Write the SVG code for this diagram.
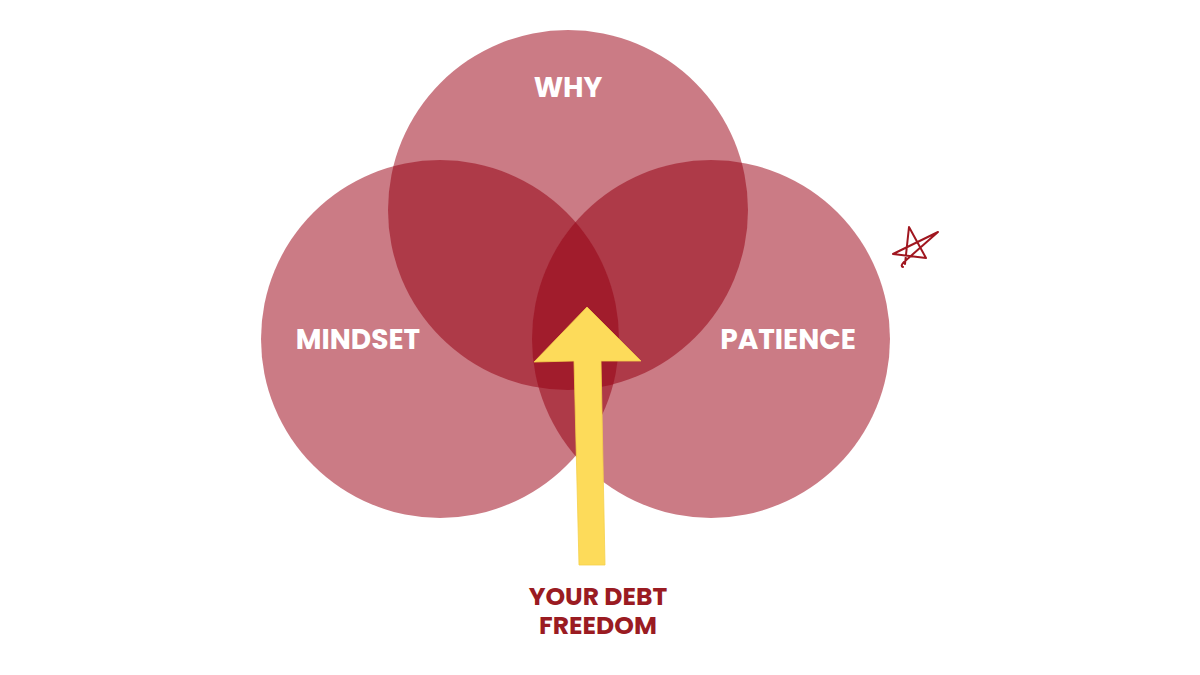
<svg xmlns="http://www.w3.org/2000/svg" width="1200" height="675" viewBox="0 0 1200 675">
  <style>
    .single { fill: #CB7B85; }
    .double { fill: #AE3A48; }
    .triple { fill: #A11C2C; }
    .lbl { font-family: Poppins, "Noto Sans", "Open Sans", sans-serif; font-weight: 700; fill: #FFFFFF; text-anchor: middle; font-size: 28px; }
    .dark { font-family: Poppins, "Noto Sans", "Open Sans", sans-serif; font-weight: 700; fill: #9A1B22; text-anchor: middle; font-size: 25px; }
  </style>
  <defs>
    <clipPath id="clipA"><circle cx="568" cy="210" r="180"/></clipPath>
    <clipPath id="clipB"><circle cx="440" cy="339" r="179"/></clipPath>
    <clipPath id="clipC"><circle cx="711" cy="339" r="179"/></clipPath>
  </defs>
  <rect width="1200" height="675" fill="#FFFFFF"/>
  <g id="circle-why"><circle class="single" cx="568" cy="210" r="180"/></g>
  <g id="circle-mindset"><circle class="single" cx="440" cy="339" r="179"/></g>
  <g id="circle-patience"><circle class="single" cx="711" cy="339" r="179"/></g>
  <g id="overlaps">
    <circle class="double" cx="440" cy="339" r="179" clip-path="url(#clipA)"/>
    <circle class="double" cx="711" cy="339" r="179" clip-path="url(#clipA)"/>
    <circle class="double" cx="711" cy="339" r="179" clip-path="url(#clipB)"/>
    <g clip-path="url(#clipB)"><circle class="triple" cx="711" cy="339" r="179" clip-path="url(#clipA)"/></g>
  </g>
  <g id="labels">
    <text class="lbl" x="568" y="97">WHY</text>
    <text class="lbl" x="358" y="349">MINDSET</text>
    <text class="lbl" x="788" y="349">PATIENCE</text>
  </g>
  <g id="connectors">
    <polygon id="arrow" fill="#FDDB5A" stroke="#F5D04A" stroke-width="0.8" points="587,307 641,361 601,361 605,565 579,565 574,361 534,362"/>
  </g>
  <g id="result">
    <text class="dark" x="598" y="605">YOUR DEBT</text>
    <text class="dark" x="598" y="634">FREEDOM</text>
  </g>
  <g id="star">
    <path d="M905,264 L909,227 L926,258 L893,254 L938,232 L904,262 Q900,266 903,267" fill="none" stroke="#A0161F" stroke-width="2" stroke-linejoin="round" stroke-linecap="round"/>
  </g>
</svg>
